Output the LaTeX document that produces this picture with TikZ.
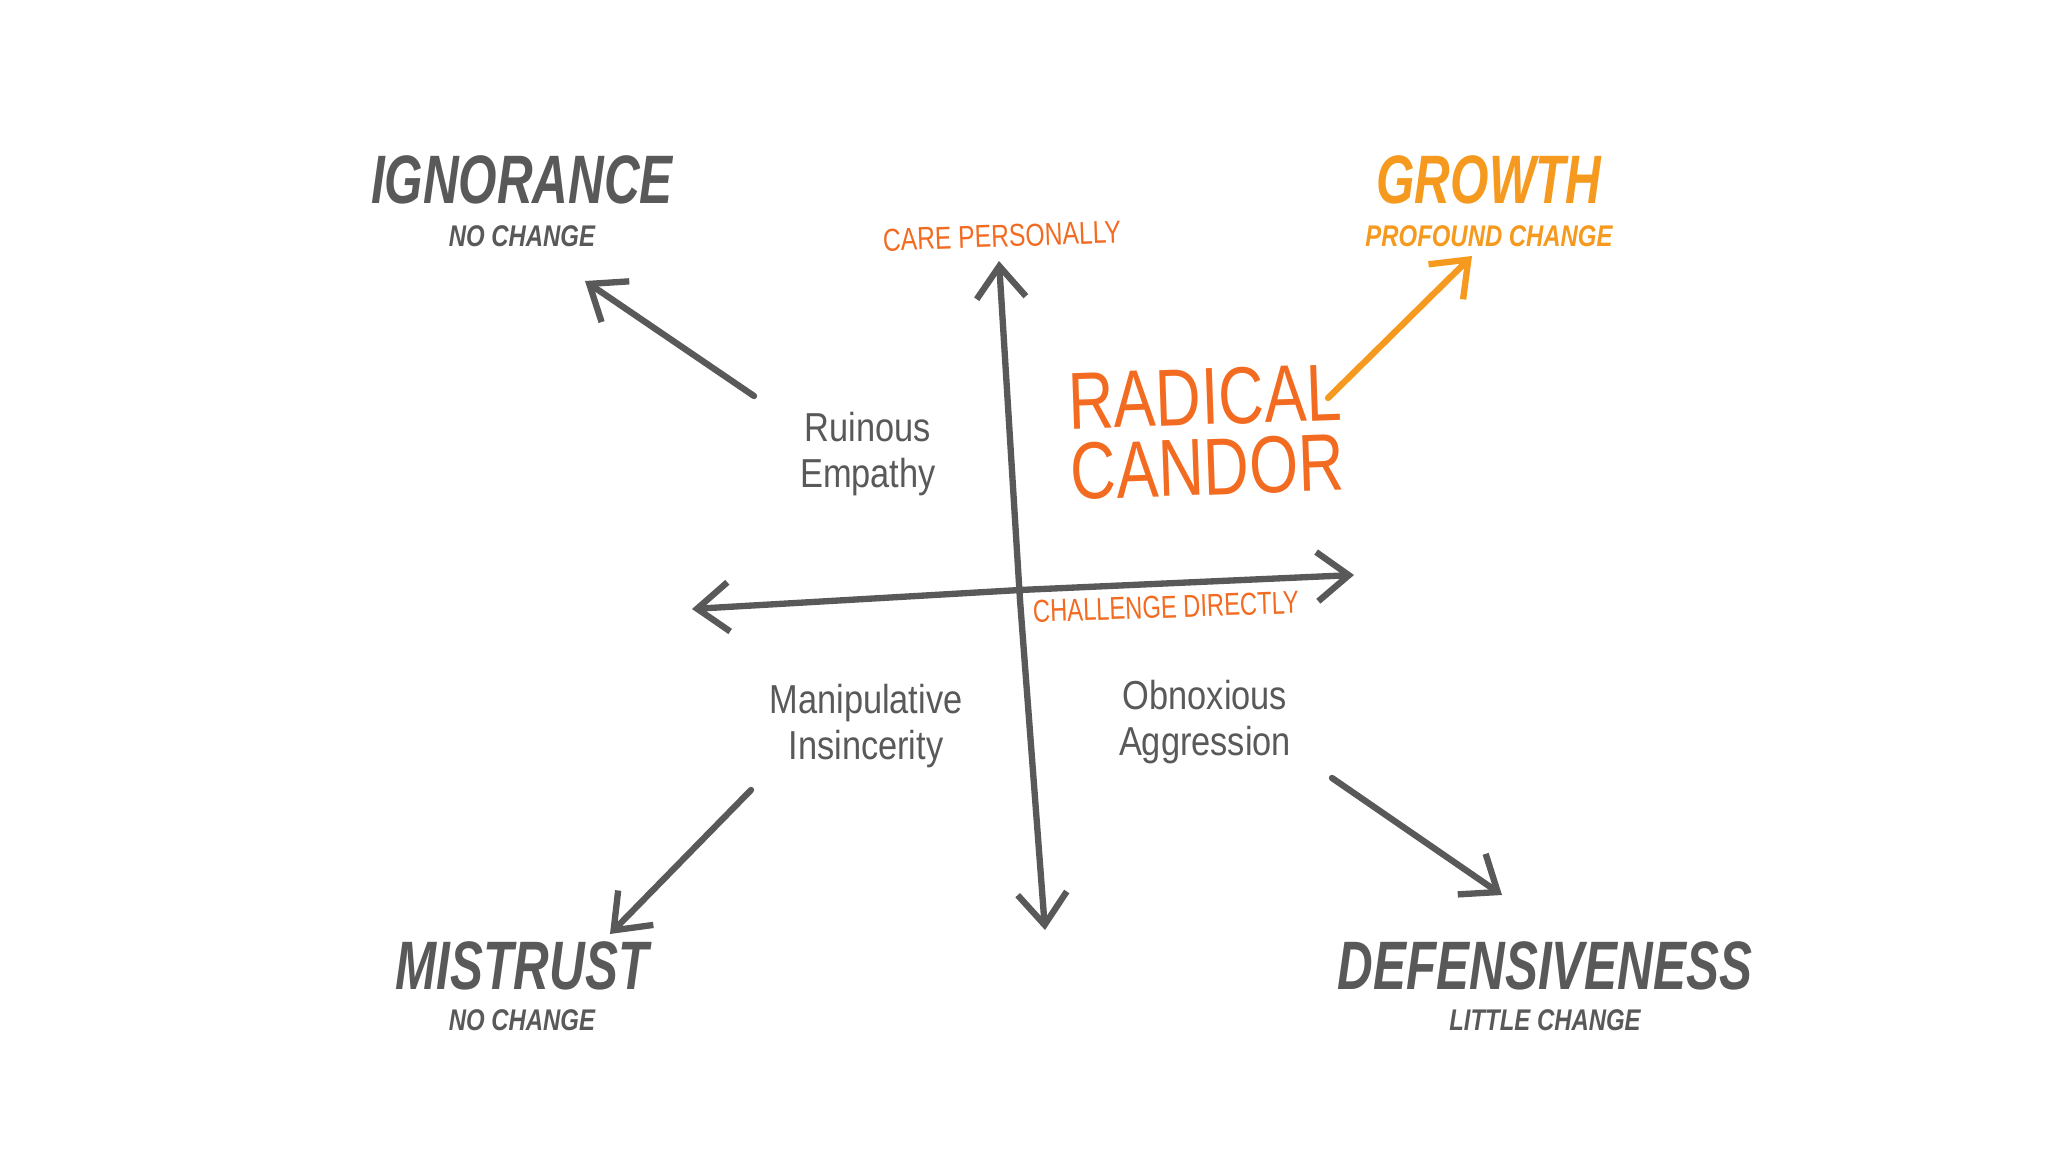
\documentclass[tikz,border=0pt]{standalone}
\usepackage{fontspec}
\usepackage{graphicx}
\setmainfont{Liberation Sans}
\usetikzlibrary{arrows.meta}
\definecolor{ink}{HTML}{595959}
\definecolor{rc}{HTML}{F26B21}
\definecolor{gr}{HTML}{F59A1E}
\newcommand{\nx}[2]{\scalebox{#1}[1]{#2}}
\begin{document}
\begin{tikzpicture}[x=0.01cm,y=-0.01cm,
  big/.style={font=\fontsize{19.5}{22}\selectfont\bfseries\itshape,text=ink},
  sub/.style={font=\fontsize{8.5}{10}\selectfont\bfseries\itshape,text=ink},
  axlab/.style={font=\fontsize{9}{10}\selectfont,text=rc},
  quad/.style={font=\fontsize{11.5}{13}\selectfont,text=ink,align=center},
  arr/.style={line width=1.8pt,draw=ink,line cap=round,-{Straight Barb[length=9pt,width=14pt,line width=1.8pt]}}]
\useasboundingbox (0,0) rectangle (2048,1152);
\fill[white] (0,0) rectangle (2048,1152);
\node[big] (ign) at (522,180) {\nx{0.72}{IGNORANCE}};
\node[sub] (ignS) at (522,236) {\nx{0.8}{NO CHANGE}};
\node[big,text=gr] (gro) at (1489,180) {\nx{0.72}{GROWTH}};
\node[sub,text=gr] (groS) at (1489,236) {\nx{0.8}{PROFOUND CHANGE}};
\node[big] (mis) at (522,966) {\nx{0.72}{MISTRUST}};
\node[sub] (misS) at (522,1020) {\nx{0.8}{NO CHANGE}};
\node[big] (def) at (1545,966) {\nx{0.72}{DEFENSIVENESS}};
\node[sub] (defS) at (1545,1020) {\nx{0.8}{LITTLE CHANGE}};
\node[axlab,rotate=2] (care) at (1002,236) {\nx{0.78}{CARE PERSONALLY}};
\node[axlab,rotate=2] (chal) at (1166,607) {\nx{0.75}{CHALLENGE DIRECTLY}};
\node[font=\fontsize{23}{20}\selectfont,text=rc,align=center,rotate=2] (rad) at (1206,432) {\nx{0.78}{RADICAL}\\\nx{0.78}{CANDOR}};
\node[quad] (ruin) at (868,454) {\nx{0.85}{Ruinous}\\\nx{0.85}{Empathy}};
\node[quad] (man) at (866,726) {\nx{0.85}{Manipulative}\\\nx{0.85}{Insincerity}};
\node[quad] (obn) at (1205,722) {\nx{0.85}{Obnoxious}\\\nx{0.85}{Aggression}};
\coordinate (vt) at (999,261); \coordinate (vb) at (1045,930);
\coordinate (hl) at (692,609); \coordinate (hr) at (1354,575);
\coordinate (vm) at (1020,600); \coordinate (hm) at (1020,590);
\draw[arr,{Straight Barb[length=9pt,width=14pt,line width=1.8pt]}-] (vt) -- (vm);
\draw[arr] (vm) -- (vb);
\draw[arr,{Straight Barb[length=9pt,width=14pt,line width=1.8pt]}-] (hl) -- (hm);
\draw[arr] (hm) -- (hr);
\coordinate (a1) at (754,396); \coordinate (a1e) at (585,281);
\coordinate (a2) at (1328,398); \coordinate (a2e) at (1472,256);
\coordinate (a3) at (751,790); \coordinate (a3e) at (610,934);
\coordinate (a4) at (1332,778); \coordinate (a4e) at (1502,895);
\draw[arr] (a1) -- (a1e);
\draw[arr,draw=gr,-{Straight Barb[length=9pt,width=14pt,line width=1.8pt]}] (a2) -- (a2e);
\draw[arr] (a3) -- (a3e);
\draw[arr] (a4) -- (a4e);
\end{tikzpicture}
\end{document}
